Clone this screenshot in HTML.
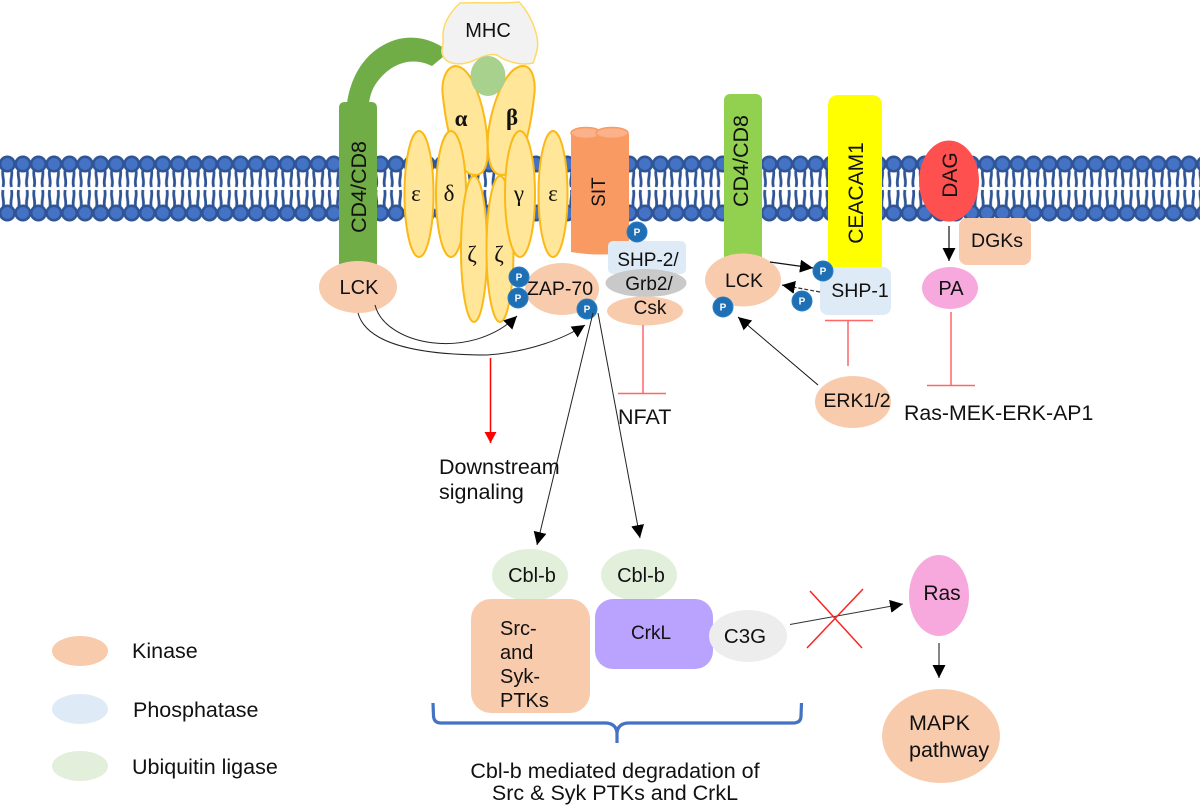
<!DOCTYPE html>
<html><head><meta charset="utf-8"><style>
html,body{margin:0;padding:0;background:#fff}
svg{display:block;filter:blur(.35px)}
text{font-family:"Liberation Sans",sans-serif;fill:#111}
.g{font-family:"Liberation Serif","DejaVu Serif",serif;font-size:23px;text-anchor:middle;font-weight:bold}
.g2{font-family:"Liberation Serif","DejaVu Serif",serif;font-size:23px;text-anchor:middle}
.m{text-anchor:middle}
.p{fill:#fff;font-size:10px;font-weight:bold;text-anchor:middle}
.y{fill:#ffe699;stroke:#fbb917;stroke-width:2}
</style></head><body>
<svg width="1200" height="809" viewBox="0 0 1200 809" xmlns="http://www.w3.org/2000/svg">
<defs>
<pattern id="lip" x="-0.5" y="150" width="15.55" height="78" patternUnits="userSpaceOnUse">
<g fill="none" stroke="#2f5597" stroke-width="2.8">
<path d="M3.500 20C2 26 5.500 30 3.500 37M12 20C13.500 26 10 30 12 37"/>
<path d="M3.500 40C2 47 5.500 51 3.500 58M12 40C13.500 47 10 51 12 58"/>
</g>
<circle cx="7.800" cy="14" r="7.200" fill="#4472c4" stroke="#2f5597" stroke-width="2.600"/>
<circle cx="7.800" cy="63" r="7.200" fill="#4472c4" stroke="#2f5597" stroke-width="2.600"/>
</pattern>
<marker id="a" markerUnits="userSpaceOnUse" markerWidth="14" markerHeight="13" refX="13" refY="6.500" orient="auto"><path d="M0 0L13 6.500L0 13Z" fill="#000"/></marker>
<marker id="r" markerUnits="userSpaceOnUse" markerWidth="12" markerHeight="12" refX="11" refY="6" orient="auto"><path d="M0 0L11 6L0 12Z" fill="#f00"/></marker>
<g id="P"><circle r="10" fill="#1f6fb5" stroke="#2a80c5" stroke-width="1"/><text class="p" y="3.500">P</text></g>
</defs>

<rect x="0" y="150" width="1200" height="78" fill="url(#lip)"/>

<!-- CD4/CD8 left -->
<path d="M347 103C351 76 365 50 395 40C415 34 435 40 449 52L432 66C410 55 388 65 375 85C371 92 370 97 369 103Z" fill="#70ad47"/>
<path d="M339 108q0-6 6-6h26q6 0 6 6v165h-38Z" fill="#70ad47"/>
<text class="m" font-size="21.500" transform="translate(366,187) rotate(-90)">CD4/CD8</text>

<!-- MHC -->
<path d="M460 3C478 2 500 4 519 2C527 10 533 22 536 33C540 45 536 55 533 63C522 66 506 62 497 55C488 53 480 58 470 62C460 65 447 65 443 56C440 50 444 46 443 38C442 25 450 12 460 3Z" fill="#f2f2f2" stroke="#ffd966" stroke-width="1.500"/>
<text class="m" x="488" y="37" font-size="20">MHC</text>

<path d="M455 66C444 68 441 85 443 97C446 125 455 175 475 175C490 175 488 150 487 135C484 105 472 66 455 66Z" class="y"/>
<path d="M523 66C534 66 536 85 534 97C531 125 522 175 502 175C488 175 487 150 488 135C491 105 506 66 523 66Z" class="y"/>
<ellipse cx="488" cy="76" rx="17.500" ry="20" fill="#a9d18e"/>

<ellipse cx="419" cy="194" rx="14.500" ry="63" class="y"/>
<ellipse cx="451" cy="194" rx="15" ry="63" class="y"/>
<ellipse cx="474" cy="249" rx="13" ry="73" class="y"/>
<ellipse cx="500" cy="249" rx="13.500" ry="73" class="y"/>
<ellipse cx="520" cy="194" rx="15" ry="63" class="y"/>
<ellipse cx="553" cy="194" rx="14.500" ry="63" class="y"/>

<text class="g" x="461" y="126">α</text>
<text class="g" x="512" y="125">β</text>
<text class="g2" x="416" y="201">ε</text>
<text class="g2" x="449" y="201">δ</text>
<text class="g2" x="519" y="201">γ</text>
<text class="g2" x="553" y="201">ε</text>
<text class="g2" x="472" y="262">ζ</text>
<text class="g2" x="499" y="262">ζ</text>

<!-- SIT -->
<path d="M571 134H629V252Q600 257 571 252Z" fill="#fa9a63"/>
<ellipse cx="586" cy="133" rx="15" ry="5.500" fill="#fbb28a" stroke="#fa9a63" stroke-width="1.500"/>
<ellipse cx="612" cy="133" rx="16" ry="5.500" fill="#fbb28a" stroke="#fa9a63" stroke-width="1.500"/>
<text class="m" font-size="19" transform="translate(605,192) rotate(-90)">SIT</text>

<!-- LCK left -->
<ellipse cx="358" cy="287" rx="39" ry="26" fill="#f8cbad"/>
<text class="m" x="359" y="294" font-size="20">LCK</text>

<!-- Cluster right of TCR -->
<ellipse cx="562" cy="289" rx="37" ry="26" fill="#f8cbad"/>
<text class="m" x="560" y="295" font-size="19.500">ZAP-70</text>
<rect x="608" y="241" width="78" height="33" rx="5" fill="#deebf7"/>
<text class="m" x="648" y="266" font-size="19">SHP-2/</text>
<ellipse cx="646" cy="283" rx="40.500" ry="14" fill="#c9c9c9"/>
<text class="m" x="649" y="290" font-size="19">Grb2/</text>
<ellipse cx="645" cy="311" rx="38" ry="14.500" fill="#f8cbad"/>
<text class="m" x="650" y="314" font-size="19">Csk</text>
<use href="#P" x="637" y="232"/>
<use href="#P" x="519" y="277"/>
<use href="#P" x="518" y="298"/>
<use href="#P" x="587" y="309"/>

<g fill="none" stroke="#222" stroke-width="1">
<path d="M375 305C385 345 470 362 517 316" marker-end="url(#a)"/>
<path d="M358 313C368 350 440 355 487 355C530 352 565 338 585 325" marker-end="url(#a)"/>
<path d="M593 313L537 545" marker-end="url(#a)"/>
<path d="M598 313L640 538" marker-end="url(#a)"/>
</g>
<path d="M490.500 358V443" stroke="#f00" stroke-width="1.500" fill="none" marker-end="url(#r)"/>
<path d="M643 325V393M618 393.500H666" stroke="#f66" stroke-width="1.500" fill="none"/>
<text x="618" y="424" font-size="21.500">NFAT</text>
<text x="439" y="474" font-size="21.500">Downstream</text>
<text x="439" y="499" font-size="21.500">signaling</text>

<!-- CD4/CD8 right -->
<rect x="724" y="94" width="38" height="190" rx="6" fill="#92d050"/>
<text class="m" font-size="21.500" transform="translate(748,161) rotate(-90)">CD4/CD8</text>
<ellipse cx="743" cy="280" rx="38" ry="26.500" fill="#f8cbad"/>
<text class="m" x="744" y="287" font-size="19.500">LCK</text>

<!-- CEACAM1 -->
<path d="M828 106q0-11 11-11h32q11 0 11 11v172h-54Z" fill="#ff0"/>
<text class="m" font-size="21" transform="translate(863,193) rotate(-90)">CEACAM1</text>
<rect x="820" y="267" width="71" height="48" rx="8" fill="#deebf7"/>
<text class="m" x="860" y="297" font-size="19.500">SHP-1</text>
<use href="#P" x="823" y="271"/>
<use href="#P" x="802" y="301"/>
<use href="#P" x="723" y="307"/>
<path d="M770 262L813 268" stroke="#111" stroke-width="1.200" fill="none" marker-end="url(#a)"/>
<path d="M820 292L782 285" stroke="#333" stroke-width="1.200" stroke-dasharray="4 2" fill="none" marker-end="url(#a)"/>
<path d="M818 385L738 317" stroke="#111" stroke-width="1" fill="none" marker-end="url(#a)"/>
<path d="M848 366V320.500M825 320.500H873" stroke="#f66" stroke-width="1.500" fill="none"/>
<ellipse cx="853" cy="402" rx="38" ry="26" fill="#f8cbad"/>
<text class="m" x="857" y="407" font-size="19.500">ERK1/2</text>

<!-- DAG -->
<rect x="959" y="218" width="72" height="47" rx="8" fill="#f8cbad"/>
<text class="m" x="997" y="247" font-size="19.500">DGKs</text>
<ellipse cx="949" cy="181" rx="30" ry="40.500" fill="#ff5050"/>
<text class="m" font-size="21" transform="translate(957,175) rotate(-90)">DAG</text>
<path d="M949 226V261" stroke="#111" stroke-width="1.200" fill="none" marker-end="url(#a)"/>
<ellipse cx="950" cy="288" rx="28" ry="21" fill="#f7a8dc"/>
<text class="m" x="951" y="295" font-size="20">PA</text>
<path d="M951 312V385M927 385.500H975" stroke="#f66" stroke-width="1.500" fill="none"/>
<text x="904" y="420" font-size="21.300">Ras-MEK-ERK-AP1</text>

<!-- Bottom -->
<ellipse cx="530" cy="575" rx="38" ry="26" fill="#e2efda"/>
<text class="m" x="532" y="582" font-size="20">Cbl-b</text>
<ellipse cx="639" cy="575" rx="38" ry="26" fill="#e2efda"/>
<text class="m" x="641" y="582" font-size="20">Cbl-b</text>
<rect x="471" y="599" width="119" height="114" rx="20" fill="#f8cbad"/>
<g font-size="20"><text x="500" y="635">Src-</text><text x="500" y="659">and</text><text x="500" y="683">Syk-</text><text x="500" y="707">PTKs</text></g>
<rect x="595" y="599" width="118" height="70" rx="18" fill="#b9a3ff"/>
<text class="m" x="651" y="639" font-size="19">CrkL</text>
<ellipse cx="748" cy="636" rx="39" ry="26" fill="#ededed"/>
<text class="m" x="745" y="643" font-size="20.500">C3G</text>

<path d="M790 624.500L903 604" stroke="#333" stroke-width="1" fill="none" marker-end="url(#a)"/>
<path d="M810 591L862 648M863 589L807 648" stroke="#f22" stroke-width="1.500" fill="none"/>
<ellipse cx="939" cy="595.500" rx="30" ry="40.500" fill="#f7a8dc"/>
<text class="m" x="942" y="600" font-size="21">Ras</text>
<path d="M939 643V678" stroke="#333" stroke-width="1.200" fill="none" marker-end="url(#a)"/>
<ellipse cx="941" cy="736" rx="59" ry="47" fill="#f8cbad"/>
<text x="909" y="730" font-size="21.500">MAPK</text>
<text x="909" y="757" font-size="21.500">pathway</text>

<path d="M433 703L433.500 716Q434 723 441 723H605Q616 723 617 733V743M617 733Q618 723 629 723H793Q801 723 801 716L801.500 703" fill="none" stroke="#4472c4" stroke-width="3.200"/>
<text class="m" x="615" y="778" font-size="21.500">Cbl-b mediated degradation of</text>
<text class="m" x="615" y="800" font-size="21.500">Src &amp; Syk PTKs and CrkL</text>

<!-- Legend -->
<ellipse cx="80" cy="651" rx="28" ry="15" fill="#f8cbad"/>
<ellipse cx="80" cy="709" rx="28" ry="15" fill="#deebf7"/>
<ellipse cx="80" cy="766" rx="28" ry="15" fill="#e2efda"/>
<text x="132" y="658" font-size="21.500">Kinase</text>
<text x="133" y="717" font-size="21.500">Phosphatase</text>
<text x="132" y="774" font-size="21.500">Ubiquitin ligase</text>
</svg>
</body></html>
